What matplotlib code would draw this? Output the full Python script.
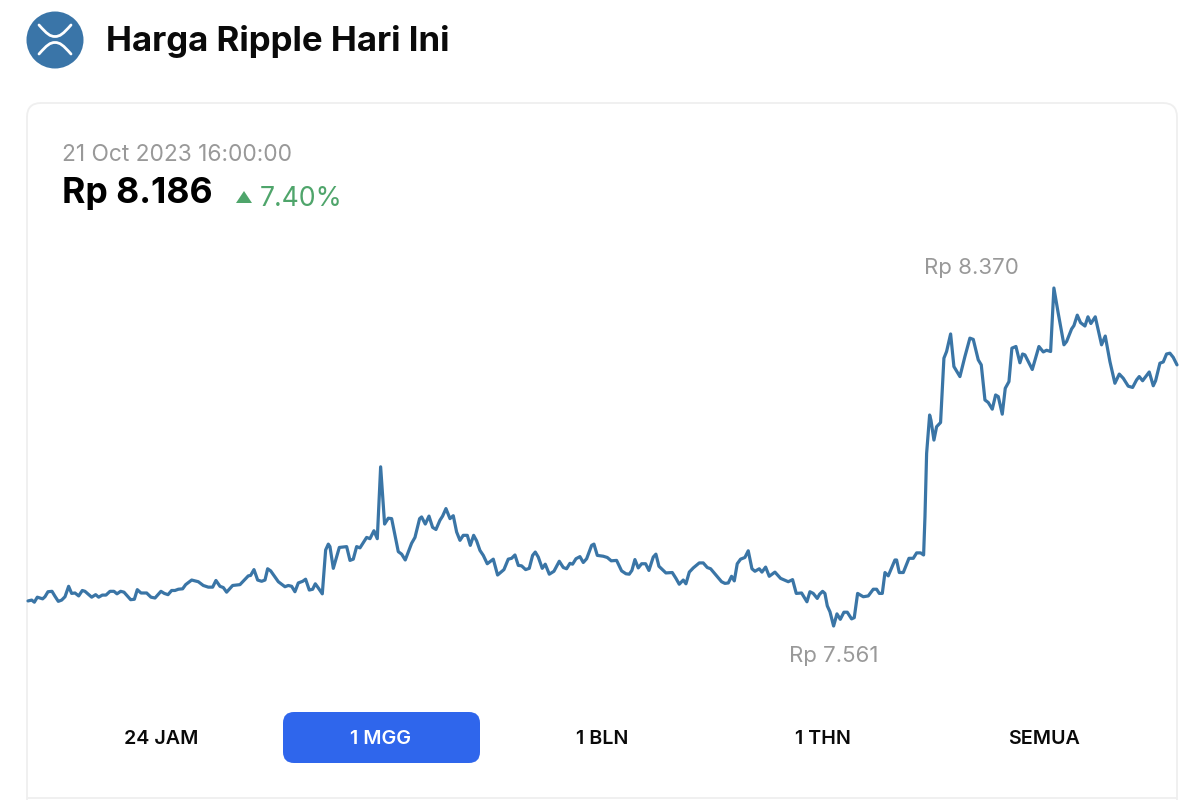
import matplotlib
matplotlib.use('Agg')
import matplotlib.pyplot as plt
from matplotlib.patches import Circle, FancyBboxPatch, PathPatch, Polygon
from matplotlib.path import Path

# time in hours since the start of the week
hours = [0.0, 0.54, 0.93, 1.36, 1.75, 2.14, 2.48, 2.92, 3.51, 3.95, 4.43, 4.92, 5.41, 5.94, 6.38, 6.87, 7.41, 7.94, 8.33,
         9.31, 9.89, 10.33, 10.87, 11.40, 11.99, 12.57, 13.01, 13.55, 14.03, 15.01, 15.55, 15.98, 16.52, 17.35, 17.98,
         18.57, 19.44, 19.93, 20.47, 21.0, 21.49, 21.98, 22.61, 23.05, 23.93, 24.9, 25.63, 26.36, 27.0, 27.48, 28.07,
         28.56, 29.04, 29.92, 30.99, 32.21, 32.55, 33.04, 33.58, 34.16, 34.65, 35.04, 35.48, 36.6, 37.57, 38.06, 38.55,
         39.03, 39.52, 40.16, 40.59, 41.13, 41.62, 42.01, 42.45, 43.03, 43.52, 43.91, 44.15, 44.64, 45.52, 46.1, 46.59,
         47.08, 47.56, 48.05, 48.54, 49.51, 50.0, 50.58, 51.07, 51.56, 52.14, 52.68, 53.17, 54.14, 54.63, 55.16, 56.09,
         56.58, 57.26,
         57.55, 58.09, 58.63, 59.16, 59.65, 60.23, 60.62, 61.11, 61.7, 62.18, 62.67, 63.16, 63.64, 64.23, 64.67, 65.16,
         65.59, 66.08, 66.57, 67.15, 68.03, 68.66, 69.59, 70.22, 70.71, 71.2, 71.69, 72.17, 72.76, 73.29, 73.78, 74.17,
         74.61, 75.19, 75.63, 76.22, 76.9, 77.68, 78.27, 78.75, 79.24, 79.63, 80.12, 80.7, 81.19, 81.68, 82.41, 82.75,
         83.24, 84.11, 84.7, 85.28, 86.06, 86.79, 87.43, 87.91, 88.3, 88.74, 89.23, 89.72, 90.3, 90.79, 91.42, 91.81,
         92.25, 92.64, 93.27, 94.2, 94.74, 95.22, 95.81, 96.2, 96.69, 97.27, 98.15, 98.73, 99.32, 99.81, 100.58, 101.41,
         101.9, 102.39, 102.87, 103.27, 103.7, 104.19, 104.82, 105.31, 105.85, 106.29, 106.92, 107.31, 107.85, 108.38,
         109.21, 110.04, 111.16, 111.79, 112.33, 113.11, 113.89, 114.33, 114.81, 115.4, 115.74,
         116.18, 116.52, 116.87, 117.26, 117.79, 118.28, 118.77, 119.3, 119.79, 120.42, 120.81, 121.3, 122.13, 122.86,
         123.59, 124.08, 124.47, 124.91, 125.3, 125.78, 126.76, 127.0, 127.39, 127.98, 128.81, 129.44, 129.93, 130.51,
         130.95, 131.15, 131.39, 131.83, 132.02, 132.46, 132.85, 133.43, 133.92, 134.31, 134.9, 135.38, 136.26, 136.99,
         137.72, 138.21, 138.94, 139.38, 139.92, 140.4, 140.99, 141.48, 141.87, 142.45, 142.89, 143.43, 143.86, 144.45,
         145.03, 145.42, 145.76, 146.84, 147.81, 148.45, 148.93, 149.52, 150.0, 150.64, 151.47, 151.86, 152.59, 152.93,
         153.42, 153.9, 154.54, 154.98, 155.41, 156.05, 156.97, 157.51, 158.19, 158.92, 159.56, 160.14, 160.87, 161.51,
         162.09, 162.48, 162.97, 163.94, 164.53, 164.87, 165.5, 165.99, 166.47, 166.96, 167.45, 168.0]

# price in rupiah at those hours
prices = [7621, 7623, 7618, 7630, 7628, 7626, 7631, 7643, 7644, 7632, 7620, 7623, 7631, 7656, 7639, 7640, 7633, 7646, 7644,
          7630, 7636, 7630, 7635, 7635, 7644, 7644, 7638, 7644, 7642, 7624, 7625, 7648, 7640, 7640, 7630,
          7628, 7644, 7639, 7636, 7646, 7646, 7649, 7650, 7660, 7671, 7667, 7658, 7654, 7654, 7670, 7656,
          7653, 7642, 7658, 7660, 7681, 7682, 7696, 7671, 7668, 7671, 7698, 7693, 7667, 7655, 7658, 7656,
          7643, 7664, 7668, 7673, 7647, 7649, 7662, 7652, 7638, 7743, 7757, 7751, 7699, 7749, 7750, 7751,
          7718, 7721, 7751, 7748, 7773, 7770, 7789, 7770, 7942, 7805, 7819, 7818, 7739, 7733, 7719, 7759,
          7773, 7818,
          7822, 7805, 7824, 7797, 7792, 7814, 7824, 7842, 7818, 7825, 7786, 7766, 7778, 7778, 7754, 7778,
          7765, 7742, 7730, 7710, 7721, 7683, 7696, 7721, 7723, 7731, 7706, 7705, 7696, 7699, 7730, 7738,
          7726, 7699, 7709, 7685, 7692, 7716, 7701, 7698, 7711, 7709, 7722, 7727, 7713, 7722, 7754, 7757,
          7730, 7728, 7725, 7717, 7718, 7693, 7686, 7685, 7694, 7720, 7700, 7710, 7710, 7694, 7726, 7733,
          7704, 7698, 7688, 7689, 7675, 7661, 7671, 7662, 7690, 7700, 7712, 7712, 7701, 7698, 7683, 7667,
          7663, 7664, 7680, 7669, 7710, 7721, 7725, 7741, 7698, 7692, 7698, 7690, 7702, 7680,
          7690, 7675, 7667, 7672, 7639, 7640, 7619, 7643, 7639, 7627, 7637,
          7644, 7639, 7609, 7595, 7561, 7590, 7577, 7594, 7594, 7578, 7581, 7639, 7631, 7633,
          7649, 7649, 7639, 7639, 7689, 7681, 7719, 7719, 7689, 7689, 7723, 7723, 7736, 7736,
          7731, 7823, 7974, 8066, 8054, 8006, 8038, 8048, 8202, 8218, 8260, 8182, 8158, 8206,
          8250, 8247, 8198, 8186, 8102, 8096, 8080, 8114, 8110, 8068, 8130, 8146, 8226, 8230,
          8191, 8212, 8210, 8175, 8230, 8217, 8221, 8218, 8370, 8309, 8234, 8242, 8272, 8280,
          8305, 8287, 8279, 8301, 8285, 8301, 8234, 8255, 8194, 8142, 8164, 8154, 8135, 8132,
          8150, 8158, 8148, 8169, 8136, 8148, 8190, 8193, 8212, 8214, 8204, 8186]

range_labels = ['24 JAM', '1 MGG', '1 BLN', '1 THN', 'SEMUA']
range_centers = [161, 381, 602, 823, 1044]
active_range = '1 MGG'

title = 'Harga Ripple Hari Ini'
date_text = '21 Oct 2023 16:00:00'
price_text = 'Rp 8.186'
change_text = '7.40%'
high_text = 'Rp 8.370'
low_text = 'Rp 7.561'

plt.rcParams['font.family'] = ['Inter', 'DejaVu Sans']

W, H = 1195, 800
line_color = '#3A75A6'
gray = '#999999'
green = '#4FA56B'
blue = '#2F66EC'
border = '#EFEFEF'

fig = plt.figure(figsize=(W / 100, H / 100), dpi=100, facecolor='white')

# page layer in pixels, y going down
page = fig.add_axes([0, 0, 1, 1])
page.set_xlim(0, W)
page.set_ylim(H, 0)
page.axis('off')

# card with rounded top, bottom edge is a straight line
page.add_patch(FancyBboxPatch((27, 103), 1150, 760, boxstyle='round,pad=0,rounding_size=14',
                              facecolor='white', edgecolor=border, linewidth=1.3))
page.plot([27, 1177], [797.5, 797.5], color=border, lw=1.3, solid_capstyle='butt')
page.set_xlim(0, W)
page.set_ylim(H, 0)

# logo
page.add_patch(Circle((55, 40), 28.5, facecolor='#3A75A8', edgecolor='none'))
arc_top = Path([(39, 25), (47, 34), (50, 36.5), (55, 36.5), (60, 36.5), (63, 34), (71, 25)],
               [Path.MOVETO, Path.CURVE4, Path.CURVE4, Path.CURVE4, Path.CURVE4, Path.CURVE4, Path.CURVE4])
arc_bottom = Path([(39, 54), (47, 45), (50, 42.5), (55, 42.5), (60, 42.5), (63, 45), (71, 54)],
                  [Path.MOVETO, Path.CURVE4, Path.CURVE4, Path.CURVE4, Path.CURVE4, Path.CURVE4, Path.CURVE4])
for arc in [arc_top, arc_bottom]:
    page.add_patch(PathPatch(arc, facecolor='none', edgecolor='white', lw=2.0, capstyle='round'))

page.text(106, 41, title, fontsize=25.1, fontweight='bold', color='#0A0A0A', ha='left', va='center')
page.text(62, 155, date_text, fontsize=16.4, color=gray, ha='left', va='center')
page.text(62, 194, price_text, fontsize=25.6, fontweight='bold', color='black', ha='left', va='center')
page.add_patch(Polygon([(236, 203), (252, 203), (244, 191)], closed=True, facecolor=green, edgecolor='none'))
page.text(260, 199, change_text, fontsize=19.1, color=green, ha='left', va='center')
page.text(971, 268, high_text, fontsize=16, color=gray, ha='center', va='center')
page.text(834, 656, low_text, fontsize=16, color=gray, ha='center', va='center')

# range buttons
page.add_patch(FancyBboxPatch((283, 712), 197, 51, boxstyle='round,pad=0,rounding_size=11',
                              facecolor=blue, edgecolor='none'))
for label, cx in zip(range_labels, range_centers):
    page.text(cx, 739, label, fontsize=14.2, fontweight='semibold', ha='center', va='center',
              color='white' if label == active_range else '#0A0A0A')

# price line
ax = fig.add_axes([28 / W, (H - 626) / H, 1149 / W, 338 / H])
ax.patch.set_alpha(0)
ax.plot(hours, prices, color=line_color, lw=2.3, solid_joinstyle='round', solid_capstyle='round', clip_on=False)
ax.set_xlim(0, 168)
ax.set_ylim(7561, 8370)
ax.axis('off')

fig.savefig('out.png', dpi=100)
